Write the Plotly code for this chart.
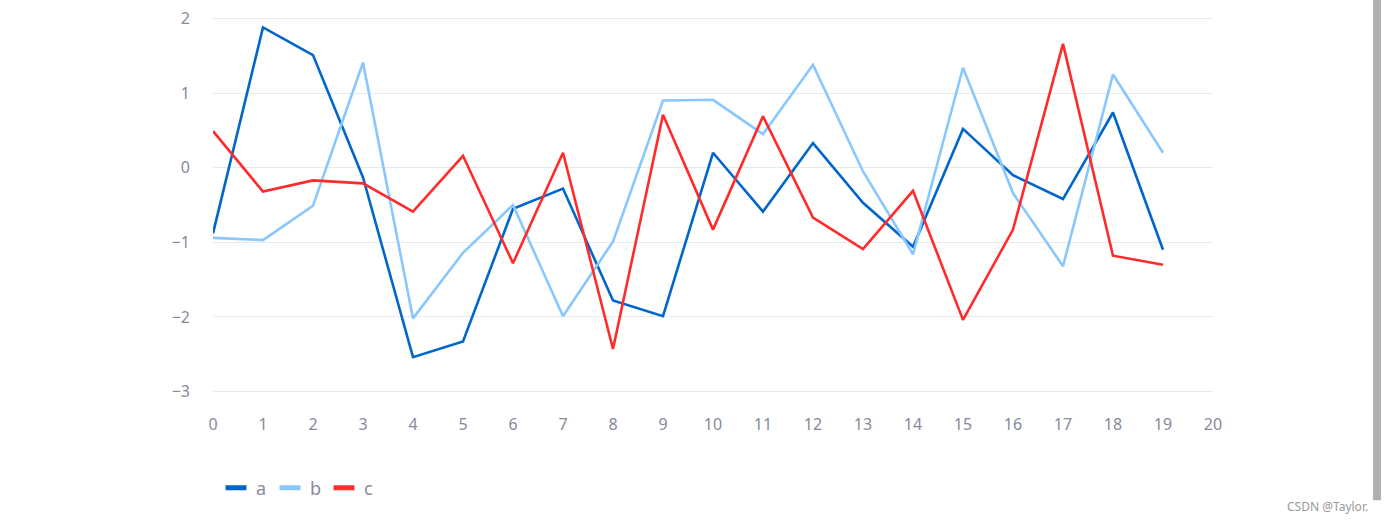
import plotly.graph_objects as go

x_vals = list(range(20))
series_a = [-0.88, 1.88, 1.51, -0.13, -2.54, -2.33, -0.55, -0.28, -1.78, -1.99,
            0.20, -0.59, 0.33, -0.47, -1.06, 0.52, -0.10, -0.42, 0.74, -1.10]
series_b = [-0.94, -0.97, -0.51, 1.41, -2.02, -1.14, -0.50, -1.99, -0.99, 0.90,
            0.91, 0.45, 1.38, -0.05, -1.16, 1.34, -0.34, -1.32, 1.25, 0.20]
series_c = [0.49, -0.32, -0.17, -0.21, -0.59, 0.16, -1.28, 0.20, -2.43, 0.71,
            -0.83, 0.69, -0.67, -1.09, -0.31, -2.04, -0.83, 1.66, -1.18, -1.30]
names = ["a", "b", "c"]
colors = ["#0066cc", "#88c8ff", "#ff2b2b"]
x_ticks = list(range(21))
y_ticks = [-3, -2, -1, 0, 1, 2]

fig = go.Figure()
for name, ys, col in zip(names, [series_a, series_b, series_c], colors):
    fig.add_trace(go.Scatter(x=x_vals, y=ys, mode="lines", name=name,
                             line=dict(color=col, width=2.6), showlegend=False))
for name, col in zip(names, colors):
    fig.add_trace(go.Scatter(x=[None], y=[None], mode="markers", name=name,
                             marker=dict(symbol="line-ew", size=15,
                                         line=dict(width=5, color=col)),
                             showlegend=True))

tick_font = dict(family="Noto Sans, Open Sans, sans-serif", size=16, color="#868a9c")

fig.update_layout(
    width=1385, height=524,
    margin=dict(l=213, r=172, t=17, b=131, autoexpand=False),
    paper_bgcolor="white", plot_bgcolor="white",
    xaxis=dict(range=[0, 20], tickvals=x_ticks, showgrid=False, zeroline=False,
               showline=False, ticks="", tickfont=tick_font, ticklabelstandoff=20),
    yaxis=dict(range=[-3.02, 2.02], tickvals=y_ticks, showgrid=True, gridcolor="#e6e9f0",
               gridwidth=1, zeroline=False, showline=False, ticks="",
               tickfont=tick_font, ticklabelstandoff=22),
    legend=dict(orientation="h", x=0.003, xanchor="left", y=-0.253, yanchor="middle",
                font=dict(family="Noto Sans, Open Sans, sans-serif", size=18, color="#868a9c"),
                itemwidth=30, entrywidth=9, entrywidthmode="pixels",
                bgcolor="rgba(0,0,0,0)"),
    showlegend=True,
)

fig.add_annotation(text="CSDN @Taylor.", xref="paper", yref="paper",
                   x=1.157, y=-0.303, xanchor="right", yanchor="middle", showarrow=False,
                   font=dict(family="Noto Sans, sans-serif", size=12, color="#999999"))
fig.add_shape(type="rect", xref="paper", yref="paper", x0=1.16, x1=1.168, y0=-0.285, y1=1.05,
              fillcolor="#b0afb5", line=dict(width=0), layer="above")

fig.write_html("out.html")
